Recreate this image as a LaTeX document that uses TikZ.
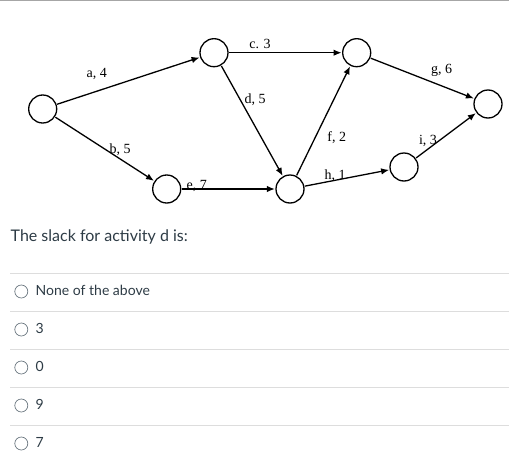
\documentclass[tikz,border=0pt]{standalone}
\usepackage{fontspec}
\setmainfont{Liberation Serif}
\newfontfamily\latofont{Lato}
\usetikzlibrary{arrows.meta}
\definecolor{canvastext}{HTML}{2D3B45}
\definecolor{sepgray}{HTML}{DDDDDD}
\definecolor{radiogray}{HTML}{6B7780}
\tikzset{
  ev/.style={circle,draw,line width=1.3pt,minimum size=28pt,inner sep=0pt},
  act/.style={-{Latex[length=8pt,width=6.5pt]},line width=1.3pt,shorten <=0.5pt,shorten >=0.5pt},
  lbl/.style={font=\fontsize{14}{15}\selectfont,inner sep=0pt},
  qtext/.style={font=\latofont\fontsize{16}{18}\selectfont,text=canvastext,anchor=west,inner sep=0pt},
  otext/.style={font=\latofont\fontsize{14}{16}\selectfont,text=canvastext,anchor=west,inner sep=0pt},
  radio/.style={circle,draw=radiogray,line width=0.7pt,minimum size=13pt,inner sep=0pt},
  sep/.style={draw=sepgray,line width=0.8pt}
}
\begin{document}
\begin{tikzpicture}[x=1pt,y=-1pt]
\useasboundingbox (0,0) rectangle (509,466);
\draw[draw=black!35,line width=1.2pt] (0,0.6) -- (509,0.6);
% events
\node[ev] (n1) at (42.7,109) {};
\node[ev] (n2) at (214,52.7) {};
\node[ev] (n3) at (356.7,52.7) {};
\node[ev] (n4) at (488,104) {};
\node[ev] (n5) at (166.7,189) {};
\node[ev] (n6) at (290,189) {};
\node[ev] (n7) at (404,167) {};
% activities
\draw[act] (n1) -- (n2);
\draw[act] (n2) -- (n3);
\draw[act] (n2) -- (n6);
\draw[act] (n3) -- (n4);
\draw[act] (n1) -- (n5);
\draw[act] (n5) -- (n6);
\draw[act] (n6) -- (n3);
\draw[act] (n6) -- (n7);
\draw[act] (n7) -- (n4);
% labels
\node[lbl] (la) at (96.7,74) {a, 4};
\node[lbl] (lc) at (260,44) {c. 3};
\node[lbl] (ld) at (255,100) {d, 5};
\node[lbl] (lg) at (441.7,70.7) {g, 6};
\node[lbl] (lb) at (120,150) {b, 5};
\node[lbl] (lf) at (336.7,138) {f, 2};
\node[lbl] (li) at (428,140.7) {i, 3};
\node[lbl] (lh) at (335,175.7) {h, 1};
\node[lbl] (le) at (196.7,185.7) {e, 7};
% question
\node[qtext] (q) at (10.5,237) {The slack for activity d is:};
\draw[sep] (10,273.3) -- (509,273.3);
\draw[sep] (10,311.3) -- (509,311.3);
\draw[sep] (10,349.3) -- (509,349.3);
\draw[sep] (10,387.3) -- (509,387.3);
\draw[sep] (10,425.7) -- (509,425.7);
\node[radio] (r1) at (21.3,291.5) {};
\node[radio] (r2) at (21.3,329.5) {};
\node[radio] (r3) at (21.3,367.5) {};
\node[radio] (r4) at (21.3,405.5) {};
\node[radio] (r5) at (21.3,443.5) {};
\node[otext] (o1) at (35.5,290.5) {None of the above};
\node[otext] (o2) at (35.5,328.5) {3};
\node[otext] (o3) at (35.5,366.5) {0};
\node[otext] (o4) at (35.5,404.5) {9};
\node[otext] (o5) at (35.5,442.5) {7};
\end{tikzpicture}
\end{document}
